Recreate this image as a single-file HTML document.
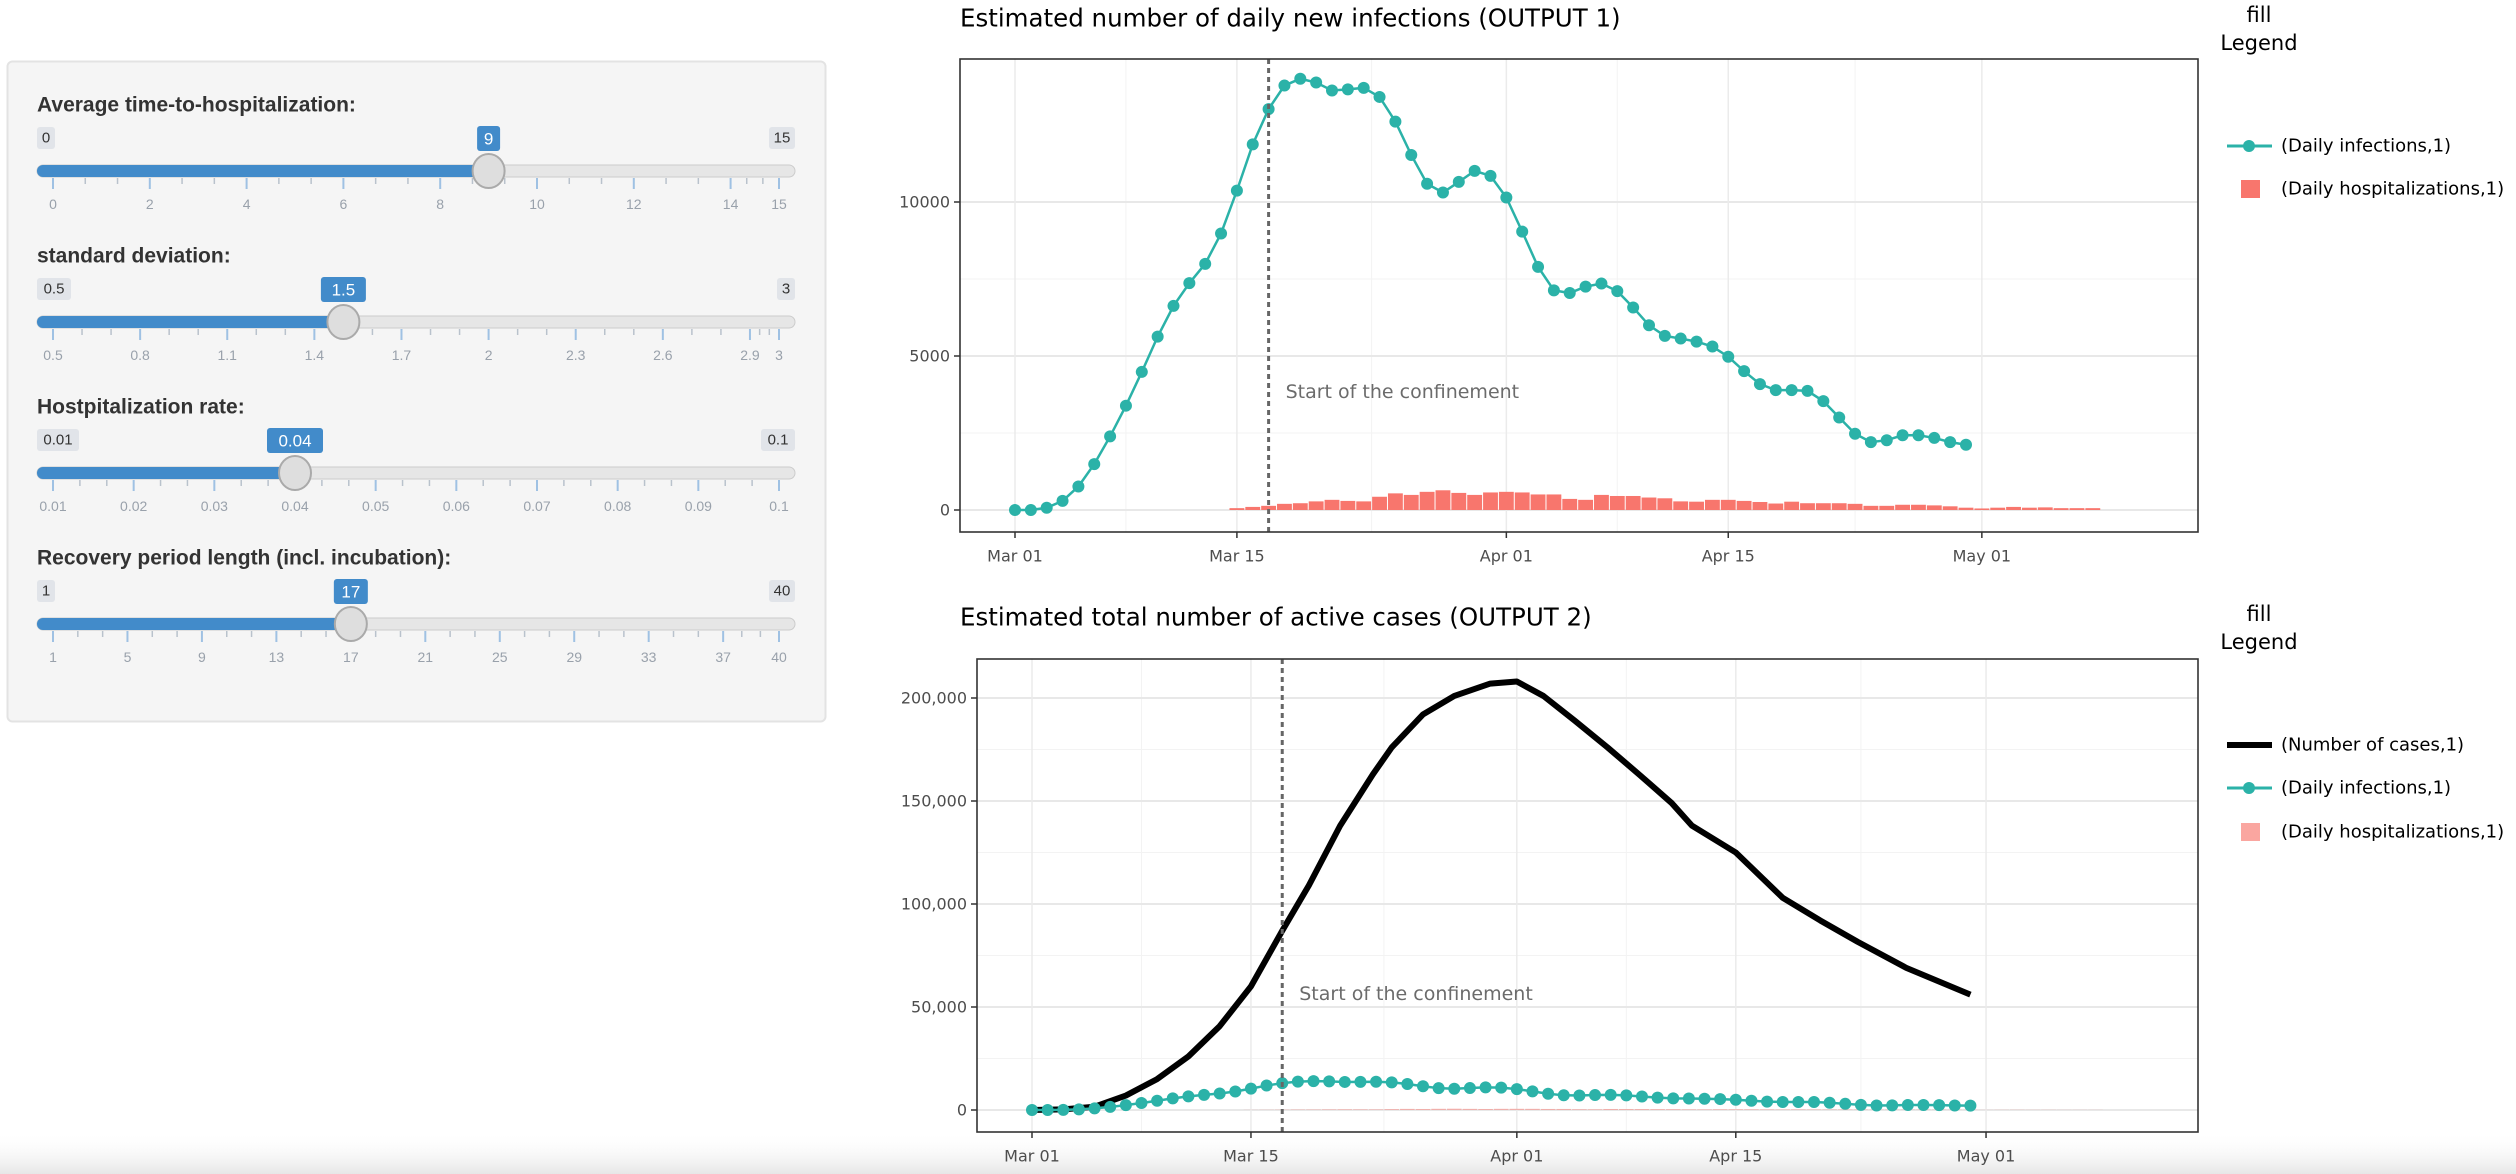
<!DOCTYPE html>
<html><head><meta charset="utf-8">
<style>
html,body{margin:0;padding:0;background:#fff;}
body{width:2516px;height:1174px;overflow:hidden;position:relative;font-family:"Liberation Sans",sans-serif;}
svg{position:absolute;left:0;top:0;}
</style></head>
<body>
<svg id="s" width="2516" height="1174" xmlns="http://www.w3.org/2000/svg">
<defs>
<linearGradient id="bot" x1="0" y1="0" x2="0" y2="1">
<stop offset="0" stop-color="#fff" stop-opacity="0"/><stop offset="1" stop-color="#e6e6e6"/></linearGradient>
</defs>
<rect x="0" y="1132" width="2516" height="42" fill="url(#bot)"/>
<rect x="7.5" y="61.5" width="818" height="660" rx="5" fill="#f5f5f5" stroke="#e3e3e3" stroke-width="2"/>
<g id="g"></g>
</svg>
<script>
const g=document.getElementById('g');
let h='';
function T(x,y,t,o){o=o||{};h+=`<text x="${x}" y="${y}" font-family="${o.f||'DejaVu Sans, sans-serif'}" font-size="${o.s||16}" fill="${o.c||'#000'}" text-anchor="${o.a||'start'}" font-weight="${o.w||'normal'}" dominant-baseline="central">${t}</text>`;}
const sl=[
 {lab:'Average time-to-hospitalization:',min:'0',max:'15',val:'9',p:0.6,ticks:['0','2','4','6','8','10','12','14','15'],tp:[0,2,4,6,8,10,12,14,15].map(v=>v/15)},
 {lab:'standard deviation:',min:'0.5',max:'3',val:'1.5',p:0.4,ticks:['0.5','0.8','1.1','1.4','1.7','2','2.3','2.6','2.9','3'],tp:[0,.3,.6,.9,1.2,1.5,1.8,2.1,2.4,2.5].map(v=>v/2.5)},
 {lab:'Hostpitalization rate:',min:'0.01',max:'0.1',val:'0.04',p:3/9,ticks:['0.01','0.02','0.03','0.04','0.05','0.06','0.07','0.08','0.09','0.1'],tp:[0,1,2,3,4,5,6,7,8,9].map(v=>v/9)},
 {lab:'Recovery period length (incl. incubation):',min:'1',max:'40',val:'17',p:16/39,ticks:['1','5','9','13','17','21','25','29','33','37','40'],tp:[0,4,8,12,16,20,24,28,32,36,39].map(v=>v/39)}
];
const X0=53,X1=779,W=X1-X0;
sl.forEach((s,i)=>{
 const oy=i*151;
 T(37,105+oy,s.lab,{f:'Liberation Sans, sans-serif',s:21,w:'bold',c:'#333'});
 const mw=s.min.length*8+10, xw=s.max.length*8+10;
 h+=`<rect x="37" y="${127+oy}" width="${mw}" height="22" rx="3" fill="#e1e4e9"/>`;
 T(37+mw/2,138+oy,s.min,{f:'Liberation Sans, sans-serif',s:15,a:'middle',c:'#333'});
 h+=`<rect x="${795-xw}" y="${127+oy}" width="${xw}" height="22" rx="3" fill="#e1e4e9"/>`;
 T(795-xw/2,138+oy,s.max,{f:'Liberation Sans, sans-serif',s:15,a:'middle',c:'#333'});
 const hx=X0+W*s.p;
 h+=`<rect x="37" y="${165+oy}" width="758" height="12" rx="6" fill="#e6e6e6" stroke="#ccc" stroke-width="1"/>`;
 h+=`<rect x="37" y="${165+oy}" width="${hx-37}" height="12" rx="6" fill="#428bca"/>`;
 for(let k=0;k<s.tp.length;k++){
  const tx=X0+W*s.tp[k];
  h+=`<line x1="${tx}" y1="${178+oy}" x2="${tx}" y2="${189+oy}" stroke="#9fc1e3" stroke-width="2"/>`;
  T(tx,204+oy,s.ticks[k],{f:'Liberation Sans, sans-serif',s:14,a:'middle',c:'#99a1ab'});
  if(k<s.tp.length-1){const nx=X0+W*s.tp[k+1];const st=(nx-tx)/3;for(let m=1;m<3;m++){const mx=tx+st*m;h+=`<line x1="${mx}" y1="${178+oy}" x2="${mx}" y2="${184+oy}" stroke="#b9c2cc" stroke-width="1.5"/>`;}}
 }
 const bw=s.val.length*11+12;
 h+=`<rect x="${hx-bw/2}" y="${126+oy}" width="${bw}" height="25" rx="3" fill="#428bca"/>`;
 T(hx,139+oy,s.val,{f:'Liberation Sans, sans-serif',s:17,a:'middle',c:'#fff'});
 h+=`<ellipse cx="${hx}" cy="${171+oy}" rx="16" ry="17" fill="#dedede" stroke="#aaa" stroke-width="2"/>`;
});
const zy=[1349,1349,1343,1325,1287,1228,1155,1074,985,892,811,751,700,620,507,385,292,230,212,222,243,240,236,260,325,413,489,512,484,455,468,525,615,708,770,777,760,752,772,815,862,890,897,905,918,945,983,1017,1033,1033,1035,1062,1105,1148,1170,1165,1152,1152,1159,1170,1177];
const inf=zy.map(v=>Math.max(0,(1349-v)*12.315));
const hosp={};
const hv=[60,100,135,200,220,280,330,295,280,430,540,490,590,640,555,490,570,590,570,505,505,360,330,490,455,455,405,380,280,270,330,330,295,260,210,270,220,220,220,200,135,135,170,170,150,120,75,50,75,100,75,85,60,60,60];
hv.forEach((v,i)=>hosp[14+i]=v);
function plot(o){
 const {L,R,Tp,B,x0,dx,y0,ky,yt,ytl,title,ty,vline}=o;
 const X=d=>x0+d*dx, Y=v=>y0-v*ky;
 h+=`<rect x="${L}" y="${Tp}" width="${R-L}" height="${B-Tp}" fill="#fff"/>`;
 for(let k=0;k<yt.length-1;k++){const m=(yt[k]+yt[k+1])/2;h+=`<line x1="${L}" x2="${R}" y1="${Y(m)}" y2="${Y(m)}" stroke="#f3f3f3" stroke-width="1"/>`;}
 [0,14,31,45,61].forEach((d,i,a)=>{if(i<a.length-1){const m=(d+a[i+1])/2;h+=`<line y1="${Tp}" y2="${B}" x1="${X(m)}" x2="${X(m)}" stroke="#f3f3f3" stroke-width="1"/>`;}});
 yt.forEach((v,i)=>{h+=`<line x1="${L}" x2="${R}" y1="${Y(v)}" y2="${Y(v)}" stroke="#e8e8e8" stroke-width="2"/>`;
  h+=`<line x1="${L-6}" x2="${L}" y1="${Y(v)}" y2="${Y(v)}" stroke="#333" stroke-width="1.5"/>`;
  T(L-10,Y(v),ytl[i],{s:16,a:'end',c:'#4d4d4d'});});
 const xl=['Mar 01','Mar 15','Apr 01','Apr 15','May 01'];
 [0,14,31,45,61].forEach((d,i)=>{h+=`<line y1="${Tp}" y2="${B}" x1="${X(d)}" x2="${X(d)}" stroke="#ebebeb" stroke-width="1.5"/>`;
  h+=`<line y1="${B}" y2="${B+6}" x1="${X(d)}" x2="${X(d)}" stroke="#333" stroke-width="1.5"/>`;
  T(X(d),B+24,xl[i],{s:16,a:'middle',c:'#4d4d4d'});});
 for(const d in hosp){const v=hosp[d];const bx=X(+d)-dx/2+0.5;const yy=Y(v);h+=`<rect x="${bx}" y="${yy}" width="${dx-1}" height="${Y(0)-yy}" fill="#f8766d" opacity="${o.barOp||1}"/>`;}
 if(o.cases){let p=o.cases.map((c,i)=>(i?'L':'M')+X(c[0])+','+Y(c[1])).join(' ');h+=`<path d="${p}" fill="none" stroke="#000" stroke-width="6" stroke-linejoin="round"/>`;}
 let p=inf.map((v,i)=>(i?'L':'M')+X(i)+','+Y(v)).join(' ');
 h+=`<path d="${p}" fill="none" stroke="#2bb2a8" stroke-width="2.5"/>`;
 inf.forEach((v,i)=>h+=`<circle cx="${X(i)}" cy="${Y(v)}" r="6" fill="#2bb2a8"/>`);
 h+=`<line x1="${X(vline)}" x2="${X(vline)}" y1="${Tp}" y2="${B}" stroke="#666" stroke-width="3" stroke-dasharray="5,4"/>`;
 T(X(vline)+17,o.annY,'Start of the confinement',{s:19,c:'#6b6b6b'});
 h+=`<rect x="${L}" y="${Tp}" width="${R-L}" height="${B-Tp}" fill="none" stroke="#333" stroke-width="1.6"/>`;
 T(o.tx,ty,title,{s:24.5,c:'#000'});
}
plot({L:960,R:2198,Tp:59,B:532,x0:1015,dx:15.85,y0:510,ky:154/5000,yt:[0,5000,10000],ytl:['0','5000','10000'],
 title:'Estimated number of daily new infections (OUTPUT 1)',tx:960,ty:18,vline:16,annY:392});
const cases=[[0,0],[2,300],[4,1600],[6,7000],[8,15000],[10,26000],[12,40700],[14,60000],[16,87000],[17.7,109000],[19.7,138000],[21.8,163000],[23,176000],[25,192000],[27,201000],[29.3,207000],[31,208000],[32.7,201000],[34.7,189000],[36.8,176000],[38.8,163000],[40.9,149000],[42.2,138000],[45,125000],[48,103000],[50.4,92000],[52.8,81600],[55.9,69000],[60,56000]];
plot({L:977,R:2198,Tp:659,B:1132,x0:1032,dx:15.64,y0:1110,ky:412/200000,yt:[0,50000,100000,150000,200000],ytl:['0','50,000','100,000','150,000','200,000'],
 title:'Estimated total number of active cases (OUTPUT 2)',tx:960,ty:617,vline:16,annY:994,cases:cases,barOp:0.5});
T(2259,15,'fill',{s:21,a:'middle'});T(2259,43,'Legend',{s:21,a:'middle'});
h+=`<line x1="2227" x2="2272" y1="146" y2="146" stroke="#2bb2a8" stroke-width="3"/><circle cx="2249" cy="146" r="6" fill="#2bb2a8"/>`;
T(2281,146,'(Daily infections,1)',{s:18});
h+=`<rect x="2241" y="180" width="19" height="18" fill="#f8766d"/>`;
T(2281,189,'(Daily hospitalizations,1)',{s:18});
T(2259,614,'fill',{s:21,a:'middle'});T(2259,642,'Legend',{s:21,a:'middle'});
h+=`<line x1="2227" x2="2272" y1="745" y2="745" stroke="#000" stroke-width="6"/>`;
T(2281,745,'(Number of cases,1)',{s:18});
h+=`<line x1="2227" x2="2272" y1="788" y2="788" stroke="#2bb2a8" stroke-width="3"/><circle cx="2249" cy="788" r="6" fill="#2bb2a8"/>`;
T(2281,788,'(Daily infections,1)',{s:18});
h+=`<rect x="2241" y="823" width="19" height="18" fill="#f8766d" opacity="0.65"/>`;
T(2281,832,'(Daily hospitalizations,1)',{s:18});
g.innerHTML=h;
</script>
</body></html>
